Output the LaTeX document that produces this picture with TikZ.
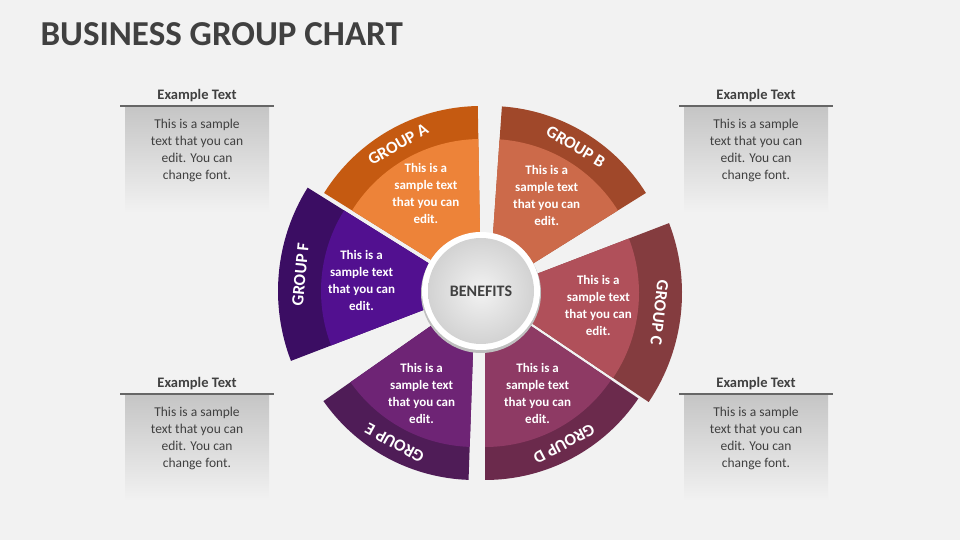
\documentclass[tikz,border=0pt]{standalone}
\usepackage{fontspec}
\setmainfont{Carlito}
\begin{document}
\begin{tikzpicture}[x=1pt,y=1pt]
\definecolor{bg}{HTML}{F2F2F2}
\definecolor{ttl}{HTML}{404040}
\definecolor{wA}{HTML}{ED8339}\definecolor{bA}{HTML}{C55A11}
\definecolor{wB}{HTML}{CC6A4A}\definecolor{bB}{HTML}{A0482A}
\definecolor{wC}{HTML}{B0505A}\definecolor{bC}{HTML}{843C3F}
\definecolor{wD}{HTML}{8E3A64}\definecolor{bD}{HTML}{6B2A4C}
\definecolor{wE}{HTML}{6E2475}\definecolor{bE}{HTML}{4F1C57}
\definecolor{wF}{HTML}{521090}\definecolor{bF}{HTML}{3B0D63}
\tikzset{
 grouplab/.style={text=white,font=\fontsize{17}{19}\selectfont\bfseries,inner sep=0pt},
 wtext/.style={text=white,align=center,font=\fontsize{13}{17}\selectfont\bfseries},
 hdr/.style={text=ttl,font=\fontsize{14.5}{16}\selectfont\bfseries},
 boxtxt/.style={text=ttl,align=center,font=\fontsize{13.5}{17}\selectfont}
}
\fill[bg] (0,0) rectangle (960,540);
\useasboundingbox (0,0) rectangle (960,540);
\node[anchor=west,text=ttl,font=\fontsize{35}{38}\selectfont\bfseries] (title) at (37,506) {BUSINESS GROUP CHART};
\newcommand\grp[8]{%
\begin{scope}[shift={#1}]
\fill[#4] (0,0) -- (#2:#7) arc[start angle=#2,end angle=#3,radius=#7] -- cycle;
\fill[#5] (0,0) -- (#2:152) arc[start angle=#2,end angle=#3,radius=152] -- cycle;
\node[grouplab,rotate={(#2+#3)/2-90}] (lab#8) at ({(#2+#3)/2}:{(152+#7)/2}) {#6};
\node[wtext] (txt#8) at ({(#2+#3)/2}:112) {This is a\\sample text\\that you can\\edit.};
\end{scope}}
\begin{scope}[shift={(481,249)}]
\grp{(0,0)}{91}{148}{bA}{wA}{GROUP A}{185}{A}
\grp{(8,0)}{32}{86}{bB}{wB}{GROUP B}{185}{B}
\grp{(6,-2)}{-34}{21}{bC}{wC}{GROUP C}{195}{C}
\grp{(4,-4)}{-90}{-34}{bD}{wD}{GROUP D}{185}{D}
\grp{(-6,-4)}{215}{268}{bE}{wE}{GROUP E}{185}{E}
\grp{(-8,0)}{148}{201}{bF}{wF}{GROUP F}{195}{F}
\fill[black!25] (0,-2) circle (60);
\fill[white] (0,0) circle (59);
\shade[inner color=gray!10,outer color=gray!35] (0,0) circle (53);
\node[text=ttl,font=\fontsize{16}{18}\selectfont\bfseries] (ben) at (0,0) {BENEFITS};
\end{scope}
\newcommand\tbox[3]{%
\node[hdr] (h#3) at (#1,{#2+10}) {Example Text};
\draw[ttl!80,line width=1.5] ({#1-77},{#2}) -- ({#1+77},{#2});
\shade[top color=gray!45,bottom color=bg] ({#1-72},{#2-2}) rectangle ({#1+72},{#2-107});
\node[boxtxt,anchor=north] (b#3) at (#1,{#2-10}) {This is a sample\\text that you can\\edit. You can\\change font.};}
\tbox{197}{434}{1}
\tbox{756}{434}{2}
\tbox{197}{146}{3}
\tbox{756}{146}{4}
\end{tikzpicture}
\end{document}
